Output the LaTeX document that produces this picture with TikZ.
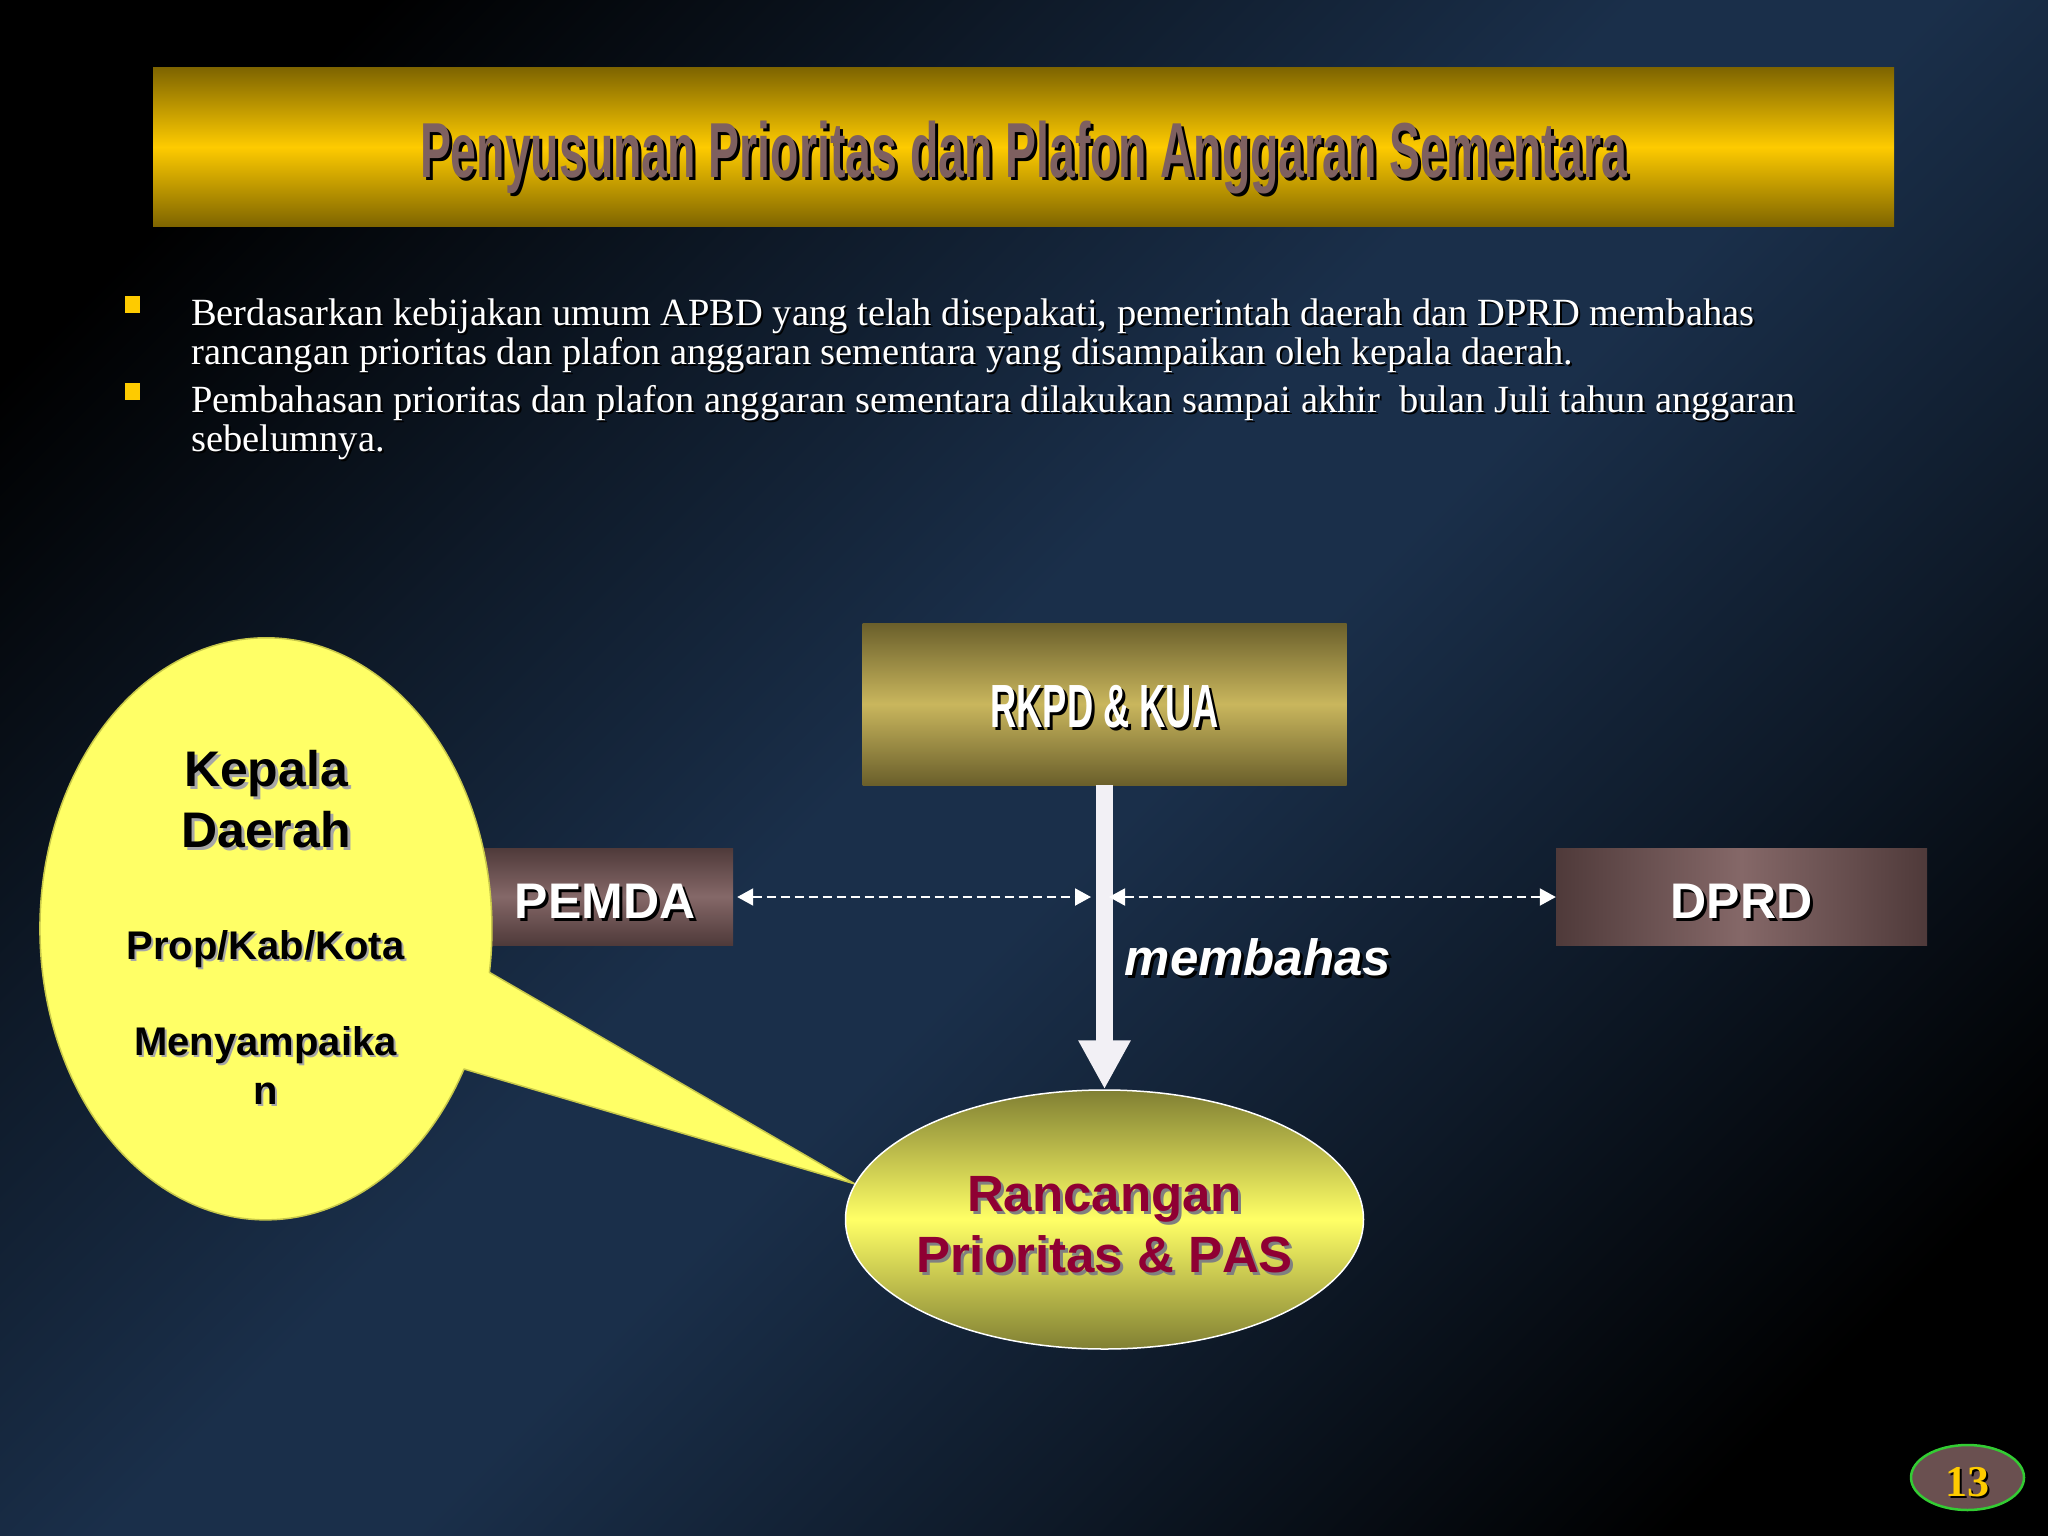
\documentclass[tikz,border=0pt]{standalone}
\usepackage{xcolor}
\usepackage{fontspec}
\usetikzlibrary{positioning,shapes.geometric,arrows.meta}
\setmainfont[Kerning=Off]{Liberation Sans}
\newfontfamily\serifface[Kerning=Off]{Liberation Serif}
\newfontfamily\condboldface[FakeStretch=0.595,UprightFont={* Bold}]{Liberation Sans}

\definecolor{navybg}{HTML}{1A2F4A}
\colorlet{navyhalf}{navybg!55!black}
\definecolor{golddark}{HTML}{7F6500}
\definecolor{goldmid}{HTML}{FECB00}
\definecolor{browndark}{HTML}{4F3A3A}
\definecolor{brownmid}{HTML}{856868}
\definecolor{titlebrown}{HTML}{7E6060}
\definecolor{olivedark}{HTML}{6A5F2B}
\definecolor{olivemid}{HTML}{C9B65D}
\definecolor{ballooncol}{HTML}{FFFF66}
\definecolor{balloonedge}{HTML}{C8C84A}
\definecolor{ovaldark}{HTML}{807F33}
\definecolor{wine}{HTML}{8F0033}
\definecolor{arrowwhite}{HTML}{F2F0F5}
\definecolor{pillfill}{HTML}{6A5050}
\definecolor{pillgreen}{HTML}{33CC33}

% diagonal band of the slide background
\pgfdeclareverticalshading{bgband}{100bp}{color(0bp)=(black); color(22bp)=(black);
    color(35bp)=(navyhalf); color(47bp)=(navybg); color(53bp)=(navybg);
    color(65bp)=(navyhalf); color(78bp)=(black); color(100bp)=(black)}

% text with a shifted copy behind it: colour, offset, text
\newcommand{\shadowed}[3]{\leavevmode\rlap{\kern#2pt\raisebox{-#2pt}{\textcolor{#1}{#3}}}#3}

\tikzset{
    boxnode/.style={rectangle, inner sep=0pt},
    labelnode/.style={inner sep=0pt, font=\bfseries\fontsize{50}{61}\selectfont, align=center},
    smalllabel/.style={inner sep=0pt, font=\bfseries\fontsize{40}{49}\selectfont, align=center},
    bulletnode/.style={rectangle, inner sep=0pt, minimum width=15pt, minimum height=17pt, fill=goldmid},
    bullettext/.style={inner sep=0pt, anchor=north west, align=left, text=white,
        font=\serifface\fontsize{38.5}{39}\selectfont},
    dashline/.style={draw=white, line width=2pt, dash pattern=on 9pt off 5pt,
        {Triangle[length=16pt,width=17pt]}-{Triangle[length=16pt,width=17pt]}}
}

\begin{document}
\begin{tikzpicture}[x=1pt, y=-1pt, line join=round]
        \useasboundingbox (0,0) rectangle (2048,1536);

        % Background
        \shade[shading=bgband, shading angle=45] (0,0) rectangle (2048,1536);

        % Title bar
        \node[boxnode, minimum width=1741pt, minimum height=158pt, top color=golddark,
            bottom color=golddark, middle color=goldmid, text=titlebrown,
            font=\condboldface\fontsize{78}{78}\selectfont, text height=60pt, text depth=0pt] (titlebar) at (1023.5,147)
            {\shadowed{black}{3}{Penyusunan Prioritas dan Plafon Anggaran Sementara}};

        % Bullets and their text
        \foreach \name/\ypos in {bulleta/304.5,bulletb/391.5}
            \node[bulletnode] (\name) at (132.5,\ypos) {};
        \node[bullettext] (texta) at (191,298.5)
            {\shadowed{black}{2}{Berdasarkan kebijakan umum APBD yang telah disepakati, pemerintah daerah dan DPRD membahas}\\
             \shadowed{black}{2}{rancangan prioritas dan plafon anggaran sementara yang disampaikan oleh kepala daerah.}};
        \node[bullettext] (textb) at (191,385.5)
            {\shadowed{black}{2}{Pembahasan prioritas dan plafon anggaran sementara dilakukan sampai akhir\ \ bulan Juli tahun anggaran}\\
             \shadowed{black}{2}{sebelumnya.}};

        % Boxes
        \node[boxnode, minimum width=484pt, minimum height=162pt, top color=olivedark,
            bottom color=olivedark, middle color=olivemid, text=white, text height=46pt, text depth=0pt,
            font=\condboldface\fontsize{61}{61}\selectfont] (rkpd) at (1104.5,704)
            {\shadowed{black}{3}{RKPD \& KUA}};
        \node[boxnode, minimum width=263pt, minimum height=97pt, top color=browndark,
            bottom color=browndark, middle color=brownmid, text=white, text height=44pt, text depth=0pt,
            font=\bfseries\fontsize{50}{50}\selectfont] (pemda) at (601.5,896.5)
            {\hspace*{7pt}\shadowed{black}{3}{PEMDA}};
        \node[boxnode, minimum width=371pt, minimum height=97pt, left color=browndark,
            right color=browndark, middle color=brownmid, text=white, text height=44pt, text depth=0pt,
            font=\bfseries\fontsize{50}{50}\selectfont] (dprd) at (1741.5,896.5)
            {\shadowed{black}{3}{DPRD}};

        % Balloon with its tail
        \coordinate (tailtip) at (855,1184);
        \fill[ballooncol, draw=balloonedge, line width=1.5pt] (tailtip) -- (464,1069)
            arc[start angle=28.8, end angle=368.6, x radius=226, y radius=291] -- cycle;
        \node[labelnode, text=black] (kepala) at (266,800.5)
            {\shadowed{black!35}{3}{Kepala}\\\shadowed{black!35}{3}{Daerah}};
        \node[smalllabel, text=black] (prop) at (265.5,950)
            {\shadowed{black!35}{2}{Prop/Kab/Kota}};
        \node[smalllabel, text=black] (menyampaikan) at (265.5,1066)
            {\shadowed{black!35}{2}{Menyampaika}\\\shadowed{black!35}{2}{n}};

        % Oval
        \node[ellipse, inner sep=0pt, minimum width=518pt, minimum height=259pt, draw=white,
            line width=1.5pt, top color=ovaldark, bottom color=ovaldark, middle color=ballooncol] (rancangan) at (1104.5,1219.5) {};
        \node[inner sep=0pt, text=wine, font=\bfseries\fontsize{51}{61}\selectfont, align=center,
            yshift=-6.5pt] (rancanganlabel) at (rancangan)
            {\shadowed{black!50}{3}{Rancangan}\\\shadowed{black!50}{3}{Prioritas \& PAS}};

        % Connectors
        \draw[arrowwhite, line width=17pt, -{Triangle[length=49pt,width=49pt]}] (rkpd.south) -- (rancangan.north);
        \coordinate (shaftleft) at (1091,897);
        \coordinate (shaftright) at (1109,897);
        \draw[dashline] (pemda.east |- shaftleft) ++(4,0) coordinate (pemdaend) -- (shaftleft);
        \draw[dashline] (shaftright) -- (dprd.west |- shaftright);

        % Labels
        \node[labelnode, text=white, font=\bfseries\itshape\fontsize{51}{51}\selectfont, right=20pt of rkpd.south, yshift=-173.5pt, anchor=west] (membahas)
            {\shadowed{black}{3}{membahas}};

        % Page number
        \node[ellipse, inner sep=0pt, minimum width=113pt, minimum height=65pt, fill=pillfill,
            draw=pillgreen, line width=2.5pt] (pagenum) at (1967.5,1477.5) {};
        \node[inner sep=0pt, text=goldmid, text height=37pt, text depth=0pt,
            font=\serifface\bfseries\fontsize{44}{44}\selectfont] (pagelabel) at (pagenum)
            {\shadowed{black}{2}{13}};
\end{tikzpicture}
\end{document}
